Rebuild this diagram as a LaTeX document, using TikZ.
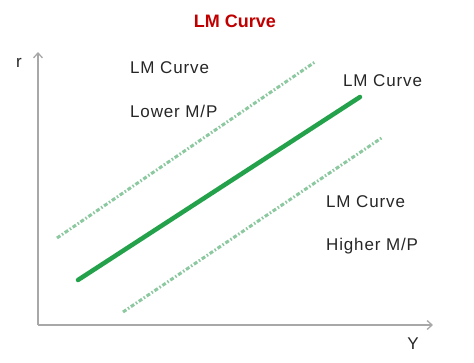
\documentclass[tikz,border=0pt]{standalone}
\usepackage{fontspec}
\setmainfont{Liberation Sans}
\newfontfamily\widesans[LetterSpace=5]{Liberation Sans}
\usetikzlibrary{arrows.meta}
\definecolor{lmred}{HTML}{C00000}
\definecolor{lmgreen}{HTML}{23A24B}
\definecolor{shifted}{HTML}{8CC9A0}
\definecolor{axisgray}{HTML}{A8A8A8}
\tikzset{
  title/.style={font=\fontsize{18}{21}\selectfont\bfseries, text=lmred, inner sep=0pt},
  txt/.style={font=\widesans\fontsize{17}{20}\selectfont, text=black!85, inner sep=0pt},
  axisline/.style={draw=axisgray, line width=1.3pt, -{Straight Barb[length=5pt,width=9pt]}},
  curve/.style={draw=lmgreen, line width=4.5pt, line cap=round},
  movedcurve/.style={draw=shifted, line width=3pt, dash pattern=on 4pt off 2pt on 1.5pt off 2pt},
}

\begin{document}
\begin{tikzpicture}[x=1pt, y=-1pt]
    \useasboundingbox (0,0) rectangle (474,363);
    \node[title, anchor=base] (head) at (235,28) {LM Curve};

    % axes
    \coordinate (o) at (38,325);
    \coordinate (ytop) at (38,52);
    \coordinate (xend) at (433,325);
    \draw[axisline] (o) -- (ytop);
    \draw[axisline] (o) -- (xend);
    \node[txt, anchor=base] (r) at (19,68) {r};
    \node[txt, anchor=base] (y) at (413,349) {Y};

    % curves
    \coordinate (lo1) at (57,238);
    \coordinate (lo2) at (315,62);
    \coordinate (mid1) at (78,280);
    \coordinate (mid2) at (360,97);
    \coordinate (hi1) at (123,312);
    \coordinate (hi2) at (383,137);
    \draw[movedcurve] (lo1) -- (lo2);
    \draw[movedcurve] (hi1) -- (hi2);
    \draw[curve] (mid1) -- (mid2);

    % labels
    \node[txt, anchor=base west] (lmup) at (130,74) {LM Curve};
    \node[txt, anchor=base west] (lower) at ([yshift=-44pt]lmup.base west) {Lower M/P};
    \node[txt, anchor=base west] (lmmid) at (343,87) {LM Curve};
    \node[txt, anchor=base west] (lmdown) at (326,208) {LM Curve};
    \node[txt, anchor=base west] (higher) at ([yshift=-43pt]lmdown.base west) {Higher M/P};
\end{tikzpicture}
\end{document}
